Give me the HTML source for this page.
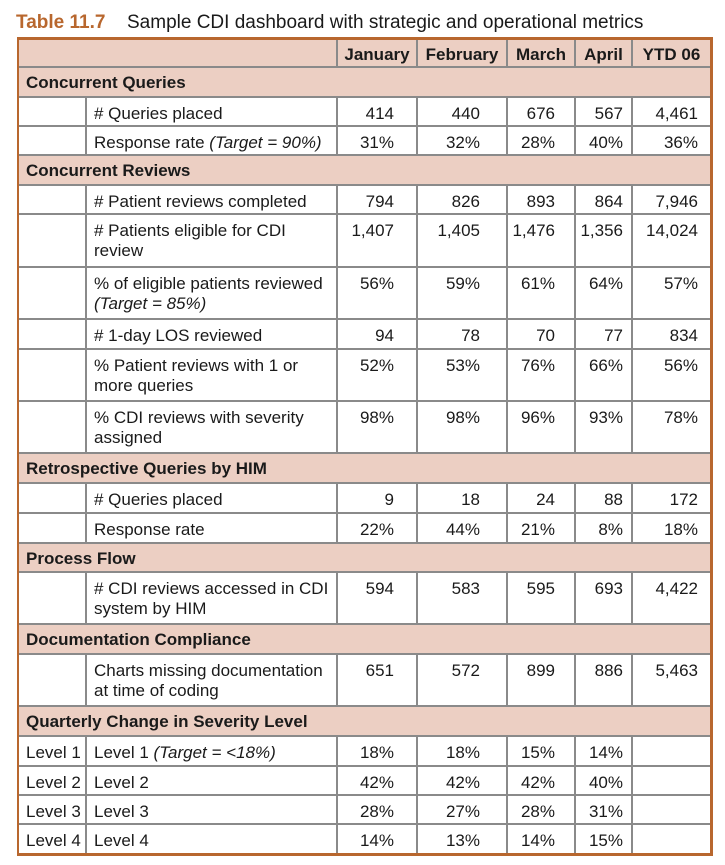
<!DOCTYPE html>
<html><head><meta charset="utf-8">
<style>
html,body{margin:0;padding:0;background:#fff;width:725px;height:865px;overflow:hidden;font-family:"Liberation Sans",Arial,sans-serif;color:#1a1a1a}
.title{position:absolute;top:13px;font-size:19px;line-height:20px;white-space:nowrap}
.t1{left:16px;color:#b8672e;font-weight:bold}
.t2{left:127px;color:#1a1a1a}
.box{position:absolute;left:17px;top:37px;width:691px;height:813px;border-style:solid;border-color:#b8672e;border-width:3px 3px 3px 2px;background:#8a8a8a}
.g{display:grid;width:691px;height:813px;grid-template-columns:66px 249px 78px 88px 66px 55px 77px;grid-template-rows:26px 28px 27px 27px 28px 27px 51px 50px 28px 50px 50px 28px 28px 28px 27px 50px 28px 50px 28px 28px 27px 27px 28px;gap:2px}
.g>div{background:#fff;font-size:17px;line-height:20px;padding:6px 0 0 7px;white-space:nowrap;overflow:hidden;box-sizing:border-box}
.g>div.s{grid-column:1/-1;background:#eccfc3;font-weight:bold;padding-top:5px}
.g>div.h{background:#eccfc3;font-weight:bold;text-align:center;padding:5px 0 0 0}
.g>div.h0{grid-column:span 2;background:#eccfc3}
.g>div.a,.g>div.b,.g>div.c,.g>div.d,.g>div.e{text-align:right;padding-left:0}
.g>div.a{padding-right:22px}
.g>div.b{padding-right:26px}
.g>div.c{padding-right:19px}
.g>div.d{padding-right:8px}
.g>div.e{padding-right:12px}
i{font-style:italic}
</style></head><body>
<div class="title t1">Table 11.7</div>
<div class="title t2">Sample CDI dashboard with strategic and operational metrics</div>
<div class="box"><div class="g">
<div class="h0"></div><div class="h">January</div><div class="h">February</div><div class="h">March</div><div class="h">April</div><div class="h">YTD 06</div>

<div class="s">Concurrent Queries</div>
<div></div><div># Queries placed</div><div class="a">414</div><div class="b">440</div><div class="c">676</div><div class="d">567</div><div class="e">4,461</div>
<div></div><div>Response rate <i>(Target = 90%)</i></div><div class="a">31%</div><div class="b">32%</div><div class="c">28%</div><div class="d">40%</div><div class="e">36%</div>

<div class="s">Concurrent Reviews</div>
<div></div><div># Patient reviews completed</div><div class="a">794</div><div class="b">826</div><div class="c">893</div><div class="d">864</div><div class="e">7,946</div>
<div></div><div># Patients eligible for CDI<br>review</div><div class="a">1,407</div><div class="b">1,405</div><div class="c">1,476</div><div class="d">1,356</div><div class="e">14,024</div>
<div></div><div>% of eligible patients reviewed<br><i>(Target = 85%)</i></div><div class="a">56%</div><div class="b">59%</div><div class="c">61%</div><div class="d">64%</div><div class="e">57%</div>
<div></div><div># 1-day LOS reviewed</div><div class="a">94</div><div class="b">78</div><div class="c">70</div><div class="d">77</div><div class="e">834</div>
<div></div><div>% Patient reviews with 1 or<br>more queries</div><div class="a">52%</div><div class="b">53%</div><div class="c">76%</div><div class="d">66%</div><div class="e">56%</div>
<div></div><div>% CDI reviews with severity<br>assigned</div><div class="a">98%</div><div class="b">98%</div><div class="c">96%</div><div class="d">93%</div><div class="e">78%</div>

<div class="s">Retrospective Queries by HIM</div>
<div></div><div># Queries placed</div><div class="a">9</div><div class="b">18</div><div class="c">24</div><div class="d">88</div><div class="e">172</div>
<div></div><div>Response rate</div><div class="a">22%</div><div class="b">44%</div><div class="c">21%</div><div class="d">8%</div><div class="e">18%</div>

<div class="s">Process Flow</div>
<div></div><div># CDI reviews accessed in CDI<br>system by HIM</div><div class="a">594</div><div class="b">583</div><div class="c">595</div><div class="d">693</div><div class="e">4,422</div>

<div class="s">Documentation Compliance</div>
<div></div><div>Charts missing documentation<br>at time of coding</div><div class="a">651</div><div class="b">572</div><div class="c">899</div><div class="d">886</div><div class="e">5,463</div>

<div class="s">Quarterly Change in Severity Level</div>
<div>Level 1</div><div>Level 1 <i>(Target = &lt;18%)</i></div><div class="a">18%</div><div class="b">18%</div><div class="c">15%</div><div class="d">14%</div><div></div>
<div>Level 2</div><div>Level 2</div><div class="a">42%</div><div class="b">42%</div><div class="c">42%</div><div class="d">40%</div><div></div>
<div>Level 3</div><div>Level 3</div><div class="a">28%</div><div class="b">27%</div><div class="c">28%</div><div class="d">31%</div><div></div>
<div>Level 4</div><div>Level 4</div><div class="a">14%</div><div class="b">13%</div><div class="c">14%</div><div class="d">15%</div><div></div>
</div></div>
</body></html>
